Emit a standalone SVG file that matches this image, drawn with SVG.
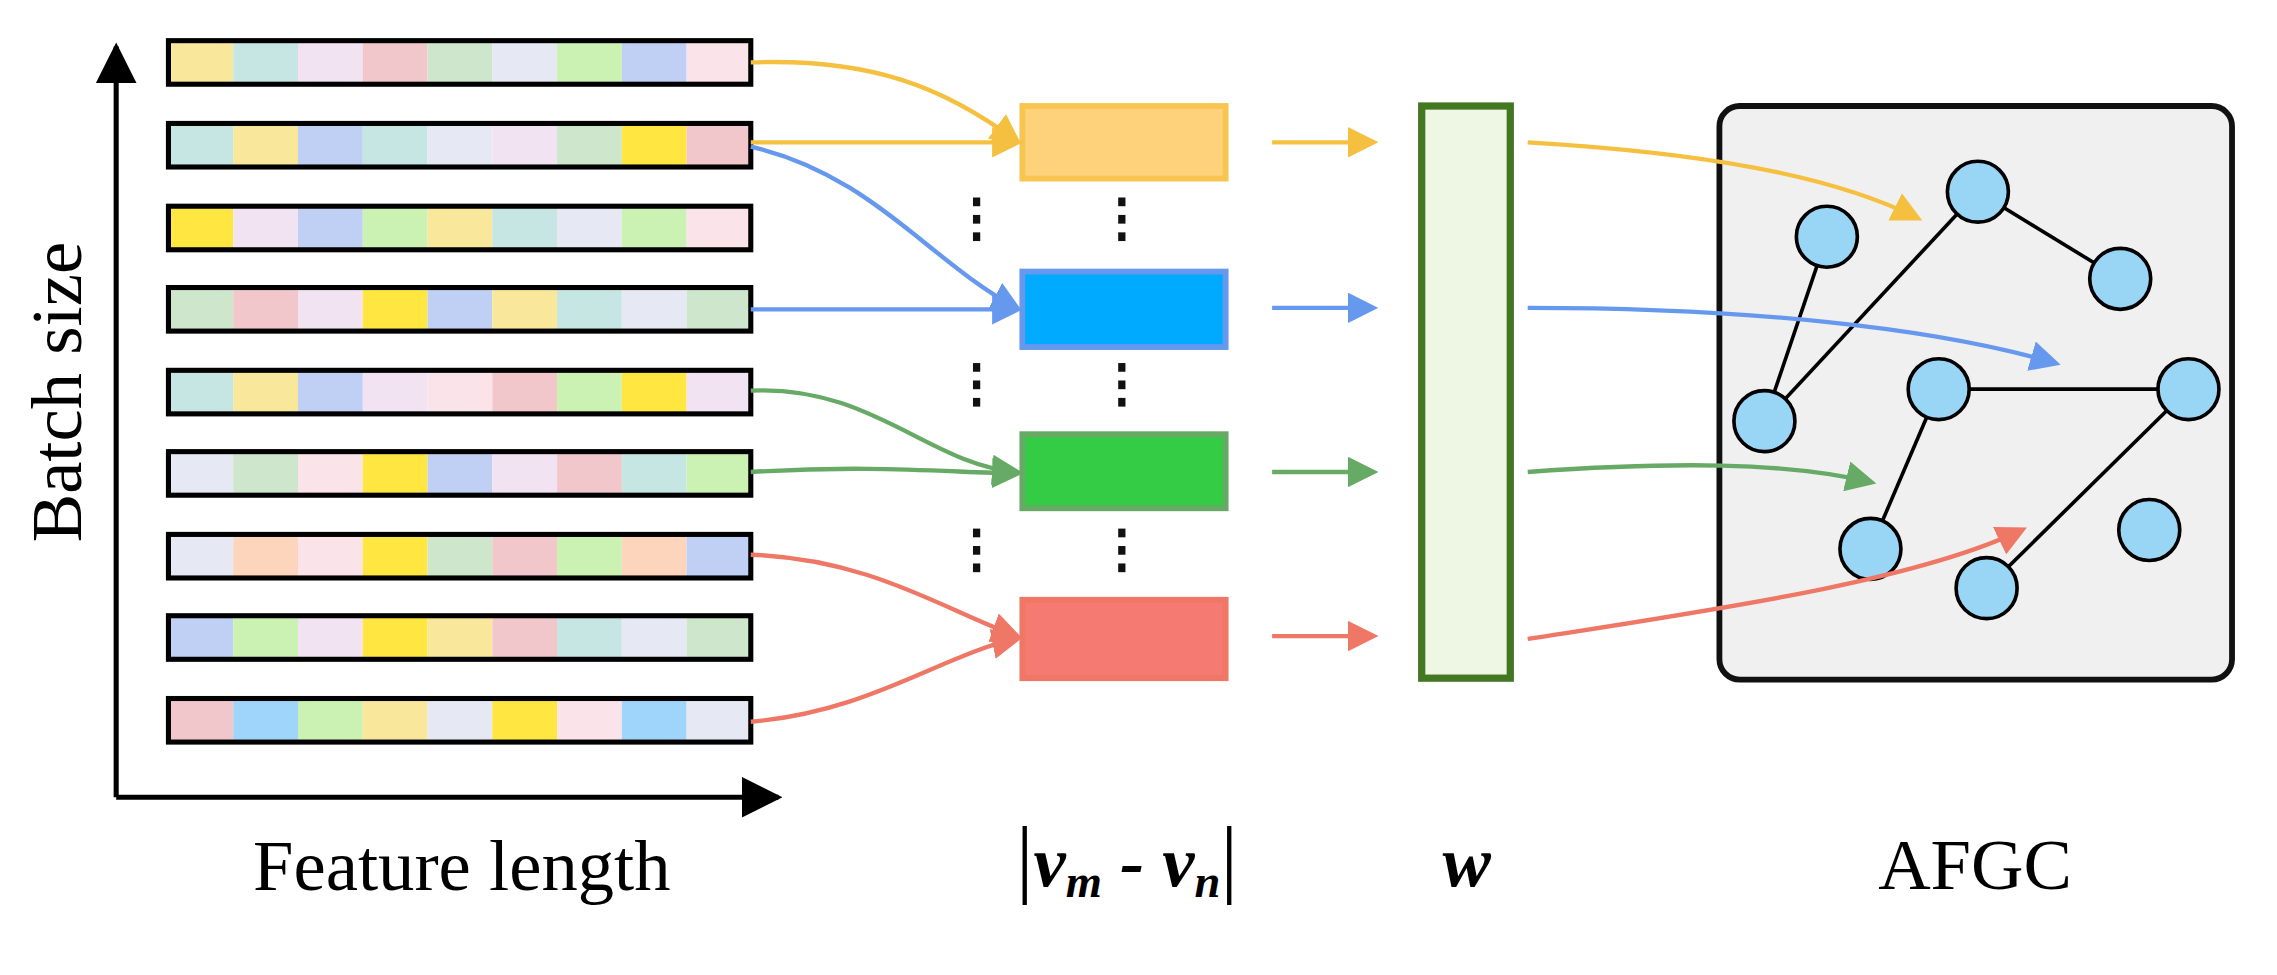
<svg xmlns="http://www.w3.org/2000/svg" width="2277" height="975" viewBox="0 0 2277 975">
<style>
.bar{fill:none;stroke:#000;stroke-width:3.5}
.c{stroke:none}
.t{font-family:"Liberation Serif",serif;font-size:50px;fill:#000}
.ln{fill:none;stroke-width:3}
.nd{fill:#99d5f5;stroke:#000;stroke-width:2.5}
.ed{stroke:#000;stroke-width:2.5}
.dot{fill:#111}
</style>
<defs>
<marker id="my" viewBox="0 0 10 10" refX="8" refY="5" markerWidth="7" markerHeight="7" orient="auto"><path d="M0,0L10,5L0,10z" fill="#f5c040"/></marker>
<marker id="mb" viewBox="0 0 10 10" refX="8" refY="5" markerWidth="7" markerHeight="7" orient="auto"><path d="M0,0L10,5L0,10z" fill="#6699ee"/></marker>
<marker id="mg" viewBox="0 0 10 10" refX="8" refY="5" markerWidth="7" markerHeight="7" orient="auto"><path d="M0,0L10,5L0,10z" fill="#66aa66"/></marker>
<marker id="mr" viewBox="0 0 10 10" refX="8" refY="5" markerWidth="7" markerHeight="7" orient="auto"><path d="M0,0L10,5L0,10z" fill="#ee7766"/></marker>
<marker id="mk" viewBox="0 0 10 10" refX="9" refY="5" markerWidth="8" markerHeight="8" orient="auto"><path d="M0,0L10,5L0,10z" fill="#000"/></marker>
</defs>
<g transform="scale(1.4522)">
<g id="axes">
<line x1="80" y1="549" x2="80" y2="32" stroke="#000" stroke-width="3.5" marker-end="url(#mk)"/>
<line x1="80" y1="549" x2="536" y2="549" stroke="#000" stroke-width="3.5" marker-end="url(#mk)"/>
</g>
<g id="bars">
<g transform="translate(116,28)">
<rect class="c" x="0" width="44.6" height="30" fill="#f9e79b"/><rect class="c" x="44.6" width="44.6" height="30" fill="#c5e6e2"/><rect class="c" x="89.2" width="44.6" height="30" fill="#f2e3f3"/><rect class="c" x="133.8" width="44.6" height="30" fill="#f2c7cc"/><rect class="c" x="178.4" width="44.6" height="30" fill="#cde6cc"/><rect class="c" x="223" width="44.6" height="30" fill="#e6e9f3"/><rect class="c" x="267.6" width="44.6" height="30" fill="#ccf2b3"/><rect class="c" x="312.2" width="44.6" height="30" fill="#c0d0f4"/><rect class="c" x="356.8" width="44.6" height="30" fill="#fbe3ea"/><rect class="bar" width="401" height="30"/></g>
<g transform="translate(116,85)">
<rect class="c" x="0" width="44.6" height="30" fill="#c5e6e2"/><rect class="c" x="44.6" width="44.6" height="30" fill="#f9e79b"/><rect class="c" x="89.2" width="44.6" height="30" fill="#c0d0f4"/><rect class="c" x="133.8" width="44.6" height="30" fill="#c5e6e2"/><rect class="c" x="178.4" width="44.6" height="30" fill="#e6e9f3"/><rect class="c" x="223" width="44.6" height="30" fill="#f2e3f3"/><rect class="c" x="267.6" width="44.6" height="30" fill="#cde6cc"/><rect class="c" x="312.2" width="44.6" height="30" fill="#ffe640"/><rect class="c" x="356.8" width="44.6" height="30" fill="#f2c7cc"/><rect class="bar" width="401" height="30"/></g>
<g transform="translate(116,142)">
<rect class="c" x="0" width="44.6" height="30" fill="#ffe640"/><rect class="c" x="44.6" width="44.6" height="30" fill="#f2e3f3"/><rect class="c" x="89.2" width="44.6" height="30" fill="#c0d0f4"/><rect class="c" x="133.8" width="44.6" height="30" fill="#ccf2b3"/><rect class="c" x="178.4" width="44.6" height="30" fill="#f9e79b"/><rect class="c" x="223" width="44.6" height="30" fill="#c5e6e2"/><rect class="c" x="267.6" width="44.6" height="30" fill="#e6e9f3"/><rect class="c" x="312.2" width="44.6" height="30" fill="#ccf2b3"/><rect class="c" x="356.8" width="44.6" height="30" fill="#fbe3ea"/><rect class="bar" width="401" height="30"/></g>
<g transform="translate(116,198)">
<rect class="c" x="0" width="44.6" height="30" fill="#cde6cc"/><rect class="c" x="44.6" width="44.6" height="30" fill="#f2c7cc"/><rect class="c" x="89.2" width="44.6" height="30" fill="#f2e3f3"/><rect class="c" x="133.8" width="44.6" height="30" fill="#ffe640"/><rect class="c" x="178.4" width="44.6" height="30" fill="#c0d0f4"/><rect class="c" x="223" width="44.6" height="30" fill="#f9e79b"/><rect class="c" x="267.6" width="44.6" height="30" fill="#c5e6e2"/><rect class="c" x="312.2" width="44.6" height="30" fill="#e6e9f3"/><rect class="c" x="356.8" width="44.6" height="30" fill="#cde6cc"/><rect class="bar" width="401" height="30"/></g>
<g transform="translate(116,255)">
<rect class="c" x="0" width="44.6" height="30" fill="#c5e6e2"/><rect class="c" x="44.6" width="44.6" height="30" fill="#f9e79b"/><rect class="c" x="89.2" width="44.6" height="30" fill="#c0d0f4"/><rect class="c" x="133.8" width="44.6" height="30" fill="#f2e3f3"/><rect class="c" x="178.4" width="44.6" height="30" fill="#fbe3ea"/><rect class="c" x="223" width="44.6" height="30" fill="#f2c7cc"/><rect class="c" x="267.6" width="44.6" height="30" fill="#ccf2b3"/><rect class="c" x="312.2" width="44.6" height="30" fill="#ffe640"/><rect class="c" x="356.8" width="44.6" height="30" fill="#f2e3f3"/><rect class="bar" width="401" height="30"/></g>
<g transform="translate(116,311)">
<rect class="c" x="0" width="44.6" height="30" fill="#e6e9f3"/><rect class="c" x="44.6" width="44.6" height="30" fill="#cde6cc"/><rect class="c" x="89.2" width="44.6" height="30" fill="#fbe3ea"/><rect class="c" x="133.8" width="44.6" height="30" fill="#ffe640"/><rect class="c" x="178.4" width="44.6" height="30" fill="#c0d0f4"/><rect class="c" x="223" width="44.6" height="30" fill="#f2e3f3"/><rect class="c" x="267.6" width="44.6" height="30" fill="#f2c7cc"/><rect class="c" x="312.2" width="44.6" height="30" fill="#c5e6e2"/><rect class="c" x="356.8" width="44.6" height="30" fill="#ccf2b3"/><rect class="bar" width="401" height="30"/></g>
<g transform="translate(116,368)">
<rect class="c" x="0" width="44.6" height="30" fill="#e6e9f3"/><rect class="c" x="44.6" width="44.6" height="30" fill="#fdd5bd"/><rect class="c" x="89.2" width="44.6" height="30" fill="#fbe3ea"/><rect class="c" x="133.8" width="44.6" height="30" fill="#ffe640"/><rect class="c" x="178.4" width="44.6" height="30" fill="#cde6cc"/><rect class="c" x="223" width="44.6" height="30" fill="#f2c7cc"/><rect class="c" x="267.6" width="44.6" height="30" fill="#ccf2b3"/><rect class="c" x="312.2" width="44.6" height="30" fill="#fdd5bd"/><rect class="c" x="356.8" width="44.6" height="30" fill="#c0d0f4"/><rect class="bar" width="401" height="30"/></g>
<g transform="translate(116,424)">
<rect class="c" x="0" width="44.6" height="30" fill="#c0d0f4"/><rect class="c" x="44.6" width="44.6" height="30" fill="#ccf2b3"/><rect class="c" x="89.2" width="44.6" height="30" fill="#f2e3f3"/><rect class="c" x="133.8" width="44.6" height="30" fill="#ffe640"/><rect class="c" x="178.4" width="44.6" height="30" fill="#f9e79b"/><rect class="c" x="223" width="44.6" height="30" fill="#f2c7cc"/><rect class="c" x="267.6" width="44.6" height="30" fill="#c5e6e2"/><rect class="c" x="312.2" width="44.6" height="30" fill="#e6e9f3"/><rect class="c" x="356.8" width="44.6" height="30" fill="#cde6cc"/><rect class="bar" width="401" height="30"/></g>
<g transform="translate(116,481)">
<rect class="c" x="0" width="44.6" height="30" fill="#f2c7cc"/><rect class="c" x="44.6" width="44.6" height="30" fill="#9fd5fb"/><rect class="c" x="89.2" width="44.6" height="30" fill="#ccf2b3"/><rect class="c" x="133.8" width="44.6" height="30" fill="#f9e79b"/><rect class="c" x="178.4" width="44.6" height="30" fill="#e6e9f3"/><rect class="c" x="223" width="44.6" height="30" fill="#ffe640"/><rect class="c" x="267.6" width="44.6" height="30" fill="#fbe3ea"/><rect class="c" x="312.2" width="44.6" height="30" fill="#9fd5fb"/><rect class="c" x="356.8" width="44.6" height="30" fill="#e6e9f3"/><rect class="bar" width="401" height="30"/></g>
</g>
<g id="diffs">
<rect x="704" y="73" width="140" height="50" fill="#fdd27a" stroke="#f7c550" stroke-width="4"/>
<rect x="704" y="187" width="140" height="52" fill="#00aaff" stroke="#6699ee" stroke-width="4"/>
<rect x="704" y="299" width="140" height="51" fill="#33cc44" stroke="#66aa66" stroke-width="4"/>
<rect x="704" y="413" width="140" height="54" fill="#f47a72" stroke="#ee7766" stroke-width="4"/>
</g>
<g id="dots">
<rect class="dot" x="670" y="136" width="5" height="6"/><rect class="dot" x="670" y="148" width="5" height="6"/><rect class="dot" x="670" y="160" width="5" height="6"/>
<rect class="dot" x="770" y="136" width="5" height="6"/><rect class="dot" x="770" y="148" width="5" height="6"/><rect class="dot" x="770" y="160" width="5" height="6"/>
<rect class="dot" x="670" y="250" width="5" height="6"/><rect class="dot" x="670" y="262" width="5" height="6"/><rect class="dot" x="670" y="274" width="5" height="6"/>
<rect class="dot" x="770" y="250" width="5" height="6"/><rect class="dot" x="770" y="262" width="5" height="6"/><rect class="dot" x="770" y="274" width="5" height="6"/>
<rect class="dot" x="670" y="364" width="5" height="6"/><rect class="dot" x="670" y="376" width="5" height="6"/><rect class="dot" x="670" y="388" width="5" height="6"/>
<rect class="dot" x="770" y="364" width="5" height="6"/><rect class="dot" x="770" y="376" width="5" height="6"/><rect class="dot" x="770" y="388" width="5" height="6"/>
</g>
<g id="w">
<rect x="979" y="73" width="61" height="394" fill="#eef6e4" stroke="#447722" stroke-width="5"/>
</g>
<g id="afgc">
<rect x="1184" y="73" width="353" height="395" rx="14" fill="#f0f0f0" stroke="#111" stroke-width="4"/>
<line class="ed" x1="1215" y1="290" x2="1258" y2="163"/>
<line class="ed" x1="1215" y1="290" x2="1362" y2="132"/>
<line class="ed" x1="1362" y1="132" x2="1460" y2="192"/>
<line class="ed" x1="1335" y1="268" x2="1507" y2="268"/>
<line class="ed" x1="1335" y1="268" x2="1288" y2="378"/>
<line class="ed" x1="1507" y1="268" x2="1368" y2="405"/>
<circle class="nd" cx="1258" cy="163" r="21"/><circle class="nd" cx="1362" cy="132" r="21"/><circle class="nd" cx="1460" cy="192" r="21"/>
<circle class="nd" cx="1215" cy="290" r="21"/><circle class="nd" cx="1335" cy="268" r="21"/><circle class="nd" cx="1507" cy="268" r="21"/>
<circle class="nd" cx="1288" cy="378" r="21"/><circle class="nd" cx="1480" cy="365" r="21"/><circle class="nd" cx="1368" cy="405" r="21"/>
</g>
<g id="connectors">
<path class="ln" stroke="#f5c040" d="M517,43 C600,40 650,60 700,97" marker-end="url(#my)"/>
<path class="ln" stroke="#f5c040" d="M517,98 L700,98" marker-end="url(#my)"/>
<path class="ln" stroke="#6699ee" d="M517,101 C600,120 640,180 700,212" marker-end="url(#mb)"/>
<path class="ln" stroke="#6699ee" d="M517,213 L700,213" marker-end="url(#mb)"/>
<path class="ln" stroke="#66aa66" d="M517,269 C600,265 640,320 700,325" marker-end="url(#mg)"/>
<path class="ln" stroke="#66aa66" d="M517,325 C600,320 650,325 700,326" marker-end="url(#mg)"/>
<path class="ln" stroke="#ee7766" d="M517,382 C600,385 650,420 700,438" marker-end="url(#mr)"/>
<path class="ln" stroke="#ee7766" d="M517,497 C600,490 650,450 700,440" marker-end="url(#mr)"/>
<path class="ln" stroke="#f5c040" d="M876,98 L945,98" marker-end="url(#my)"/>
<path class="ln" stroke="#6699ee" d="M876,212 L945,212" marker-end="url(#mb)"/>
<path class="ln" stroke="#66aa66" d="M876,325 L945,325" marker-end="url(#mg)"/>
<path class="ln" stroke="#ee7766" d="M876,438 L945,438" marker-end="url(#mr)"/>
<path class="ln" stroke="#f5c040" d="M1052,98 C1170,105 1260,120 1320,150" marker-end="url(#my)"/>
<path class="ln" stroke="#6699ee" d="M1052,212 C1200,212 1330,225 1415,250" marker-end="url(#mb)"/>
<path class="ln" stroke="#66aa66" d="M1052,325 C1150,318 1230,318 1288,332" marker-end="url(#mg)"/>
<path class="ln" stroke="#ee7766" d="M1052,440 C1180,420 1320,400 1392,365" marker-end="url(#mr)"/>
</g>
<g id="labels">
<text class="t" transform="translate(56,270) rotate(-90)" text-anchor="middle">Batch size</text>
<text class="t" x="318" y="613" text-anchor="middle">Feature length</text>
<text class="t" x="776" y="610" text-anchor="middle" font-weight="bold" font-style="italic"><tspan font-style="normal" font-weight="normal" font-size="60">|</tspan>v<tspan font-size="32" dy="8">m</tspan><tspan dy="-8"> - v</tspan><tspan font-size="32" dy="8">n</tspan><tspan dy="-8" font-style="normal" font-weight="normal" font-size="60">|</tspan></text>
<text class="t" x="1010" y="610" text-anchor="middle" font-weight="bold" font-style="italic">w</text>
<text class="t" x="1360" y="612" text-anchor="middle">AFGC</text>
</g>
</g>
</svg>
